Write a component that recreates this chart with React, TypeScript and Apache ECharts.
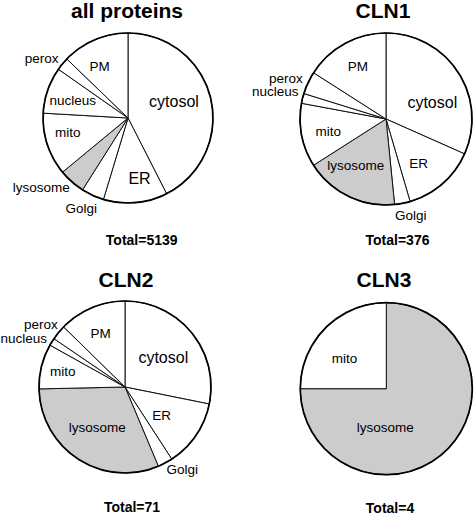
import React, { useEffect, useRef } from "react";
import * as echarts from "echarts";

// compartments, clockwise from 12 o'clock
const categories = ["cytosol", "ER", "Golgi", "lysosome", "mito", "nucleus", "perox", "PM"];

// protein counts per compartment
const allProteins = [2184, 625, 222, 258, 612, 453, 128, 657];
const cln1 = [119, 52, 11, 66, 45, 7, 16, 60];
const cln2 = [20, 9, 2, 22, 6, 1, 2, 9];
const cln3 = [0, 0, 0, 3, 1, 0, 0, 0];

const panelTitles = ["all proteins", "CLN1", "CLN2", "CLN3"];
const panelValues = [allProteins, cln1, cln2, cln3];

const FONT = '"Liberation Sans", Arial, Helvetica, sans-serif';

// pie placement + title/total text anchors (px)
const panels = [
  { center: [128, 118], radius: 85, title: [127, 10], total: [141.7, 240] },
  { center: [386, 119], radius: 86, title: [383, 10], total: [397.5, 240] },
  { center: [125, 387], radius: 86, title: [126, 279], total: [132, 507] },
  { center: [386.3, 388.7], radius: 86, title: [384, 279], total: [390, 508] },
];

// label centres relative to the pie centre
const labelSpots: Record<string, [number, number]>[] = [
  {
    cytosol: [46, -16.2],
    ER: [11.5, 60.5],
    Golgi: [-46.8, 90.6],
    lysosome: [-86.8, 69.6],
    mito: [-60.2, 14.6],
    nucleus: [-55.2, -17.7],
    perox: [-86.3, -59.4],
    PM: [-28.3, -52],
  },
  {
    cytosol: [46.3, -16.2],
    ER: [32.7, 44.6],
    Golgi: [24.7, 96.3],
    lysosome: [-30.2, 46.3],
    mito: [-57.8, 12.3],
    nucleus: [-110.7, -27.7],
    perox: [-100.2, -41],
    PM: [-28.2, -53],
  },
  {
    cytosol: [38.3, -29.5],
    ER: [36.7, 28],
    Golgi: [57.2, 82.3],
    lysosome: [-27.8, 40.3],
    mito: [-62.2, -15.4],
    nucleus: [-101.2, -48.7],
    perox: [-84.2, -63],
    PM: [-24.5, -53.7],
  },
  {
    lysosome: [-1, 38.6],
    mito: [-41.8, -30.4],
  },
];

// labels drawn in the larger font
const bigLabels = [["cytosol", "ER"], ["cytosol"], ["cytosol"], []];

const App: React.FC = () => {
  const chartRef = useRef<HTMLDivElement>(null);

  useEffect(() => {
    document.body.style.margin = "0";
    if (!chartRef.current) return;
    const myChart = echarts.init(chartRef.current, undefined, { renderer: "svg" });

    const series: any[] = [];
    const graphic: any[] = [];

    panelValues.forEach((vals, i) => {
      const p = panels[i];
      const spots = labelSpots[i];
      const items = categories
        .map((name, k) => ({
          name,
          value: vals[k],
          itemStyle: { color: name === "lysosome" ? "#cccccc" : "#ffffff" },
          label: { fontSize: bigLabels[i].includes(name) ? 16 : 13.5 },
        }))
        .filter((d) => d.value > 0);
      const total = vals.reduce((a, b) => a + b, 0);

      series.push({
        type: "pie",
        center: p.center,
        radius: p.radius,
        startAngle: 90,
        clockwise: true,
        silent: true,
        avoidLabelOverlap: false,
        emphasis: { disabled: true },
        itemStyle: { borderColor: "#111", borderWidth: 1 },
        label: {
          show: true,
          position: "inside",
          color: "#000",
          fontFamily: FONT,
          formatter: "{b}",
        },
        labelLine: { show: false },
        labelLayout: (params: any) => {
          const name = items[params.dataIndex].name;
          const s = spots[name] || [0, 0];
          return {
            x: p.center[0] + s[0],
            y: p.center[1] + s[1],
            align: "center",
            verticalAlign: "middle",
          };
        },
        data: items,
      });

      // heavier outer rim
      series.push({
        type: "pie",
        center: p.center,
        radius: p.radius,
        silent: true,
        label: { show: false },
        labelLine: { show: false },
        emphasis: { disabled: true },
        itemStyle: { color: "transparent", borderColor: "#000", borderWidth: 1.7 },
        data: [{ name: "rim", value: total }],
        z: 3,
      });

      graphic.push({
        type: "text",
        x: p.title[0],
        y: p.title[1],
        style: {
          text: panelTitles[i],
          font: `bold 21px ${FONT}`,
          fill: "#000",
          align: "center",
          verticalAlign: "middle",
          textAlign: "center",
          textVerticalAlign: "middle",
        },
      });
      graphic.push({
        type: "text",
        x: p.total[0],
        y: p.total[1],
        style: {
          text: `Total=${total}`,
          font: `bold 14px ${FONT}`,
          fill: "#000",
          align: "center",
          verticalAlign: "middle",
          textAlign: "center",
          textVerticalAlign: "middle",
        },
      });
    });

    myChart.setOption({
      animation: false,
      backgroundColor: "#ffffff",
      series,
      graphic,
    });

    return () => {
      myChart.dispose();
    };
  }, []);

  return <div ref={chartRef} style={{ width: "474px", height: "516px" }} />;
};

export default App;
